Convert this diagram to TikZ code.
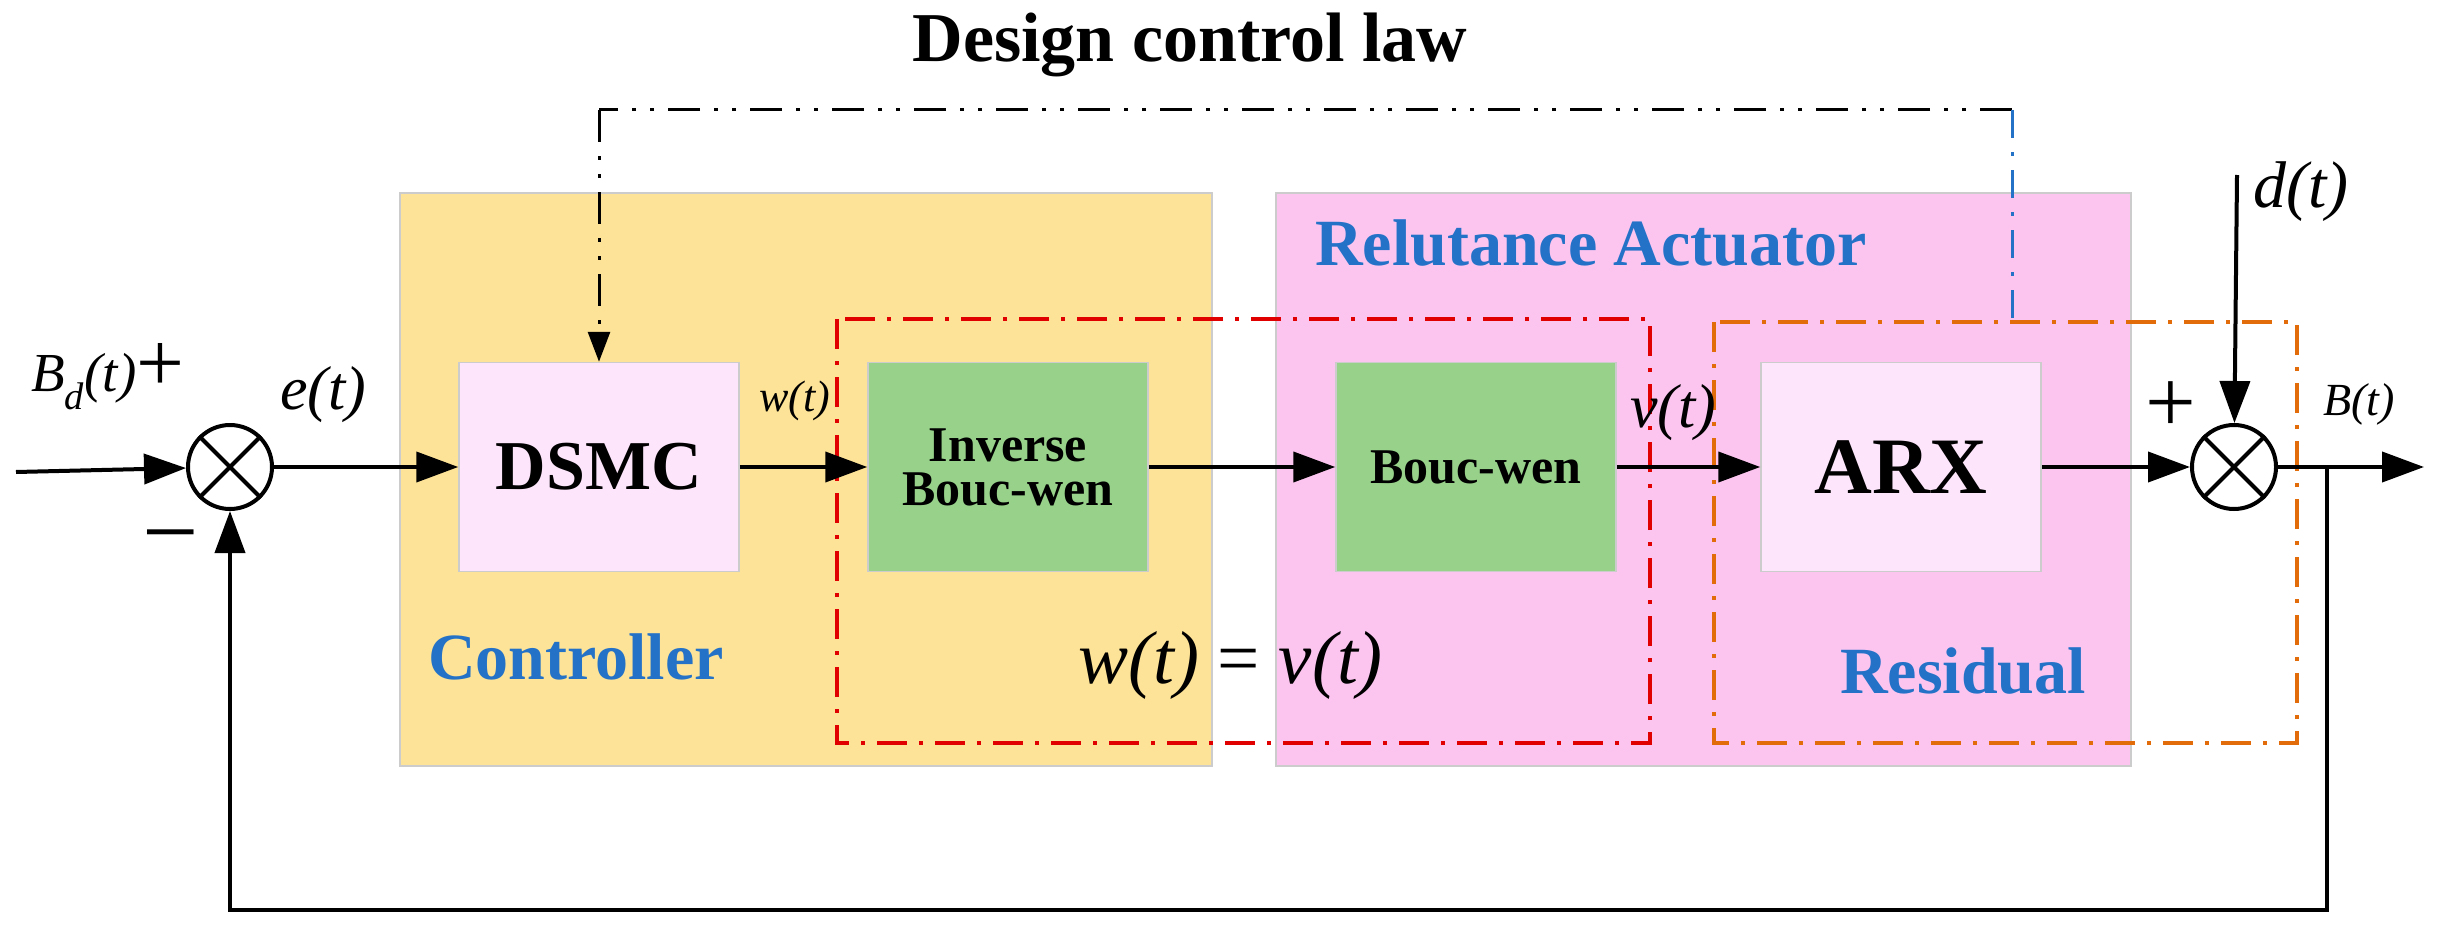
\documentclass[tikz,border=0pt]{standalone}
\usepackage{fontspec}
\setmainfont{Liberation Serif}
\usetikzlibrary{arrows.meta}
\definecolor{ctrl}{HTML}{FDE397}
\definecolor{act}{HTML}{FCC5F0}
\definecolor{lpink}{HTML}{FDE6FB}
\definecolor{grn}{HTML}{97D18A}
\definecolor{blu}{HTML}{2472C8}
\definecolor{rd}{HTML}{E00000}
\definecolor{org}{HTML}{E36C0A}
\tikzset{
  ln/.style={line width=4pt,-{Triangle[length=42pt,width=30pt]}},
  blk/.style={draw=black!20,line width=1.5pt,minimum width=280pt,minimum height=209pt,inner sep=0pt,align=center},
  sumc/.style={circle,draw,line width=4pt,minimum size=84pt,inner sep=0pt},
  dd/.style={line width=3.5pt,dash pattern=on 30pt off 12pt on 4pt off 12pt},
  ddd/.style={line width=3pt,dash pattern=on 32pt off 14pt on 4pt off 14pt on 4pt off 14pt},
  bt/.style={font=\fontsize{#1}{#1}\selectfont\bfseries,inner sep=0pt},
  mt/.style={font=\fontsize{#1}{#1}\selectfont\itshape,inner sep=0pt},
}
\begin{document}
\begin{tikzpicture}[x=1pt,y=-1pt]
\useasboundingbox (0,0) rectangle (2438,939);
\fill[ctrl,draw=black!20,line width=1.5pt] (400,193) rectangle (1212,766);
\fill[act,draw=black!20,line width=1.5pt] (1276,193) rectangle (2131,766);
\node[blk,fill=lpink,bt=70] (dsmc) at (599,467) {DSMC};
\node[blk,fill=grn,bt=50] (inv) at (1008,467) {Inverse\\[-6pt]Bouc-wen};
\node[blk,fill=grn,bt=50] (bw) at (1476,467) {Bouc-wen};
\node[blk,fill=lpink,bt=80] (arx) at (1901,467) {ARX};
\draw[rd,dd] (837,319) rectangle (1650,743);
\draw[org,dd] (1714,322) rectangle (2297,743);
\node[sumc] (s1) at (230,467) {};
\node[sumc] (s2) at (2234,467) {};
\draw[line width=4pt] (s1.north west)--(s1.south east) (s1.north east)--(s1.south west);
\draw[line width=4pt] (s2.north west)--(s2.south east) (s2.north east)--(s2.south west);
\coordinate (in) at (16,472);
\coordinate (out) at (2424,467);
\coordinate (br) at (2327,467);
\coordinate (dtop) at (2237,175);
\coordinate (fb) at (2327,910);
\draw[ln] (in) -- (s1);
\draw[ln] (s1) -- (dsmc);
\draw[ln] (dsmc) -- (inv);
\draw[ln] (inv) -- (bw);
\draw[ln] (bw) -- (arx);
\draw[ln] (arx) -- (s2);
\draw[ln] (s2) -- (out);
\draw[ln] (dtop) -- (s2);
\draw[ln] (br) -- (fb) -| (s1);
\coordinate (tl) at (599,110);
\coordinate (tr) at (2012,110);
\coordinate (tb) at (2012,320);
\draw[ddd] (tr) -- (tl);
\draw[ddd,-{Triangle[length=30pt,width=22pt]}] (tl) -- (dsmc);
\draw[blu,line width=3pt,dash pattern=on 28pt off 14pt on 4pt off 14pt] (tr) -- (tb);
\node[bt=70] (title) at (1190,45) {Design control law};
\node[bt=66,text=blu,anchor=west] (lc) at (428,657) {Controller};
\node[bt=66,text=blu,anchor=west] (la) at (1315,243) {Relutance Actuator};
\node[bt=66,text=blu,anchor=west] (lr) at (1840,671) {Residual};
\node[mt=75,anchor=west] (eq) at (1078,665) {w(t) {\upshape=} v(t)};
\node[mt=62,anchor=west] (le) at (280,395) {e(t)};
\node[mt=55,anchor=west] (lb) at (31,377) {B\textsubscript{d}(t){\upshape\fontsize{85}{85}\selectfont+}};
\node[font=\fontsize{100}{100}\selectfont,inner sep=0pt] (lm) at (171,548) {\textminus};
\node[mt=44,anchor=west] (lw) at (759,401) {w(t)};
\node[mt=62,anchor=west] (lv) at (1630,413) {v(t)};
\node[font=\fontsize{90}{90}\selectfont,inner sep=0pt] (lp) at (2171,407) {+};
\node[mt=66,anchor=west] (ld) at (2253,192) {d(t)};
\node[mt=46,anchor=west] (lB) at (2323,404) {B(t)};
\end{tikzpicture}
\end{document}
